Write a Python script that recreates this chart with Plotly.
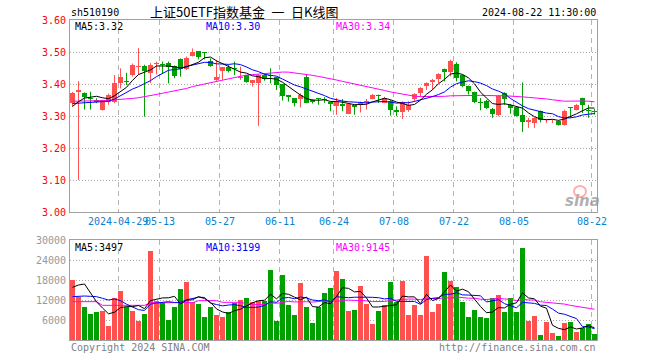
import plotly.graph_objects as go
import pandas as pd

# ---------------- data ----------------
dates = [
    "2024-04-17", "2024-04-18", "2024-04-19", "2024-04-22", "2024-04-23", "2024-04-24", "2024-04-25", "2024-04-26",
    "2024-04-29", "2024-04-30",
    "2024-05-06", "2024-05-07", "2024-05-08", "2024-05-09", "2024-05-10", "2024-05-13", "2024-05-14", "2024-05-15",
    "2024-05-16", "2024-05-17", "2024-05-20", "2024-05-21", "2024-05-22", "2024-05-23", "2024-05-24", "2024-05-27",
    "2024-05-28", "2024-05-29", "2024-05-30", "2024-05-31",
    "2024-06-03", "2024-06-04", "2024-06-05", "2024-06-06", "2024-06-07", "2024-06-11", "2024-06-12", "2024-06-13",
    "2024-06-14", "2024-06-17", "2024-06-18", "2024-06-19", "2024-06-20", "2024-06-21", "2024-06-24", "2024-06-25",
    "2024-06-26", "2024-06-27", "2024-06-28",
    "2024-07-01", "2024-07-02", "2024-07-03", "2024-07-04", "2024-07-05", "2024-07-08", "2024-07-09", "2024-07-10",
    "2024-07-11", "2024-07-12", "2024-07-15", "2024-07-16", "2024-07-17", "2024-07-18", "2024-07-19", "2024-07-22",
    "2024-07-23", "2024-07-24", "2024-07-25", "2024-07-26", "2024-07-29", "2024-07-30", "2024-07-31",
    "2024-08-01", "2024-08-02", "2024-08-05", "2024-08-06", "2024-08-07", "2024-08-08", "2024-08-09", "2024-08-12",
    "2024-08-13", "2024-08-14", "2024-08-15", "2024-08-16", "2024-08-19", "2024-08-20", "2024-08-21", "2024-08-22",
]

opens = [
    3.342, 3.376, 3.373, 3.357, 3.350, 3.319, 3.345, 3.345, 3.404, 3.410,
    3.428, 3.453, 3.456, 3.434, 3.461, 3.464, 3.465, 3.456, 3.478, 3.446,
    3.488, 3.503, 3.500, 3.473, 3.413, 3.441, 3.452, 3.448, 3.418, 3.428,
    3.404, 3.404, 3.428, 3.426, 3.423, 3.400, 3.366, 3.355, 3.352, 3.421,
    3.351, 3.354, 3.352, 3.345, 3.330, 3.337, 3.307, 3.333, 3.334, 3.344,
    3.354, 3.366, 3.341, 3.348, 3.320, 3.311, 3.318, 3.353, 3.372, 3.393,
    3.405, 3.416, 3.447, 3.436, 3.464, 3.429, 3.393, 3.374, 3.344, 3.348,
    3.323, 3.304, 3.372, 3.335, 3.328, 3.304, 3.280, 3.278, 3.315, 3.287,
    3.286, 3.285, 3.273, 3.326, 3.320, 3.356, 3.320, 3.316,
]
highs = [
    3.375, 3.409, 3.374, 3.376, 3.355, 3.351, 3.370, 3.428, 3.449, 3.435,
    3.464, 3.512, 3.460, 3.465, 3.470, 3.470, 3.470, 3.458, 3.480, 3.486,
    3.511, 3.503, 3.500, 3.480, 3.475, 3.441, 3.460, 3.470, 3.454, 3.428,
    3.412, 3.430, 3.431, 3.449, 3.423, 3.400, 3.366, 3.355, 3.371, 3.428,
    3.352, 3.356, 3.359, 3.346, 3.356, 3.353, 3.338, 3.335, 3.345, 3.353,
    3.369, 3.367, 3.360, 3.350, 3.330, 3.346, 3.346, 3.371, 3.390, 3.405,
    3.416, 3.434, 3.448, 3.476, 3.468, 3.430, 3.395, 3.376, 3.356, 3.350,
    3.325, 3.366, 3.374, 3.337, 3.330, 3.405, 3.294, 3.296, 3.317, 3.291,
    3.289, 3.286, 3.320, 3.326, 3.337, 3.357, 3.335, 3.322,
]
lows = [
    3.329, 3.100, 3.320, 3.320, 3.340, 3.317, 3.335, 3.340, 3.386, 3.397,
    3.423, 3.429, 3.298, 3.403, 3.430, 3.433, 3.402, 3.418, 3.423, 3.444,
    3.486, 3.477, 3.477, 3.454, 3.410, 3.413, 3.436, 3.428, 3.413, 3.404,
    3.392, 3.269, 3.410, 3.402, 3.381, 3.348, 3.345, 3.330, 3.327, 3.340,
    3.339, 3.335, 3.341, 3.315, 3.304, 3.315, 3.306, 3.304, 3.311, 3.320,
    3.352, 3.341, 3.340, 3.301, 3.299, 3.291, 3.313, 3.346, 3.361, 3.382,
    3.382, 3.403, 3.408, 3.424, 3.408, 3.390, 3.367, 3.340, 3.318, 3.322,
    3.294, 3.299, 3.335, 3.307, 3.298, 3.250, 3.263, 3.263, 3.280, 3.278,
    3.278, 3.270, 3.270, 3.294, 3.318, 3.309, 3.294, 3.304,
]
closes = [
    3.373, 3.380, 3.358, 3.354, 3.343, 3.350, 3.365, 3.404, 3.423, 3.406,
    3.459, 3.456, 3.440, 3.460, 3.467, 3.460, 3.454, 3.426, 3.446, 3.482,
    3.501, 3.485, 3.496, 3.457, 3.423, 3.454, 3.442, 3.446, 3.421, 3.407,
    3.412, 3.428, 3.415, 3.424, 3.397, 3.363, 3.358, 3.342, 3.366, 3.342,
    3.343, 3.353, 3.350, 3.339, 3.343, 3.330, 3.337, 3.328, 3.341, 3.348,
    3.367, 3.364, 3.356, 3.320, 3.311, 3.345, 3.335, 3.369, 3.388, 3.403,
    3.414, 3.431, 3.436, 3.471, 3.419, 3.393, 3.377, 3.343, 3.342, 3.325,
    3.307, 3.364, 3.353, 3.325, 3.301, 3.280, 3.289, 3.294, 3.289, 3.289,
    3.287, 3.273, 3.315, 3.324, 3.335, 3.335, 3.316, 3.314,
]
volumes = [
    18000, 13000, 10000, 7800, 8500, 8700, 4200, 12500, 14700, 10000,
    8700, 5800, 7800, 26800, 11700, 11000, 6000, 10000, 15300, 17500,
    11500, 10800, 7000, 9800, 7500, 7000, 8500, 11200, 12000, 12600,
    11500, 11700, 11800, 21000, 5800, 19500, 10500, 7500, 17100, 9800,
    5200, 9800, 14200, 15500, 20700, 18300, 8700, 9000, 16200, 10800,
    4800, 8700, 10500, 17400, 11500, 17800, 7500, 10500, 7500, 25200,
    8400, 10800, 20400, 17700, 15900, 11500, 6900, 9000, 6900, 6600,
    12600, 13500, 8500, 12600, 8500, 27700, 5800, 7200, 1500, 5500,
    2100, 1200, 5200, 5500, 2500, 3700, 4800, 1800,
]

# moving-average values at the left edge (windows reach before the visible range)
price_ma5_head = [3.330, 3.345, 3.356, 3.358]
price_ma10_head = [3.339, 3.340, 3.341, 3.341, 3.342, 3.343, 3.346, 3.353, 3.363]
price_ma30_head = [3.346, 3.346, 3.347, 3.347, 3.347, 3.348, 3.349, 3.350, 3.351, 3.352,
                   3.355, 3.357, 3.360, 3.363, 3.367, 3.371, 3.375, 3.378, 3.382, 3.386,
                   3.392, 3.396, 3.400, 3.405, 3.408, 3.412, 3.417, 3.421, 3.425]
vol_ma5_head = [15800, 16500, 16800, 14000]
vol_ma10_head = [13000, 13200, 13200, 13100, 13000, 12500, 12000, 12300, 11800]
vol_ma30_head = [11500, 11500, 11500, 11500, 11500, 10400, 10400, 10400, 10400, 10400,
                 10400, 10400, 10400, 11200, 11200, 11200, 11200, 11200, 11200, 11200,
                 11200, 11800, 11800, 11800, 11800, 11300, 11300, 11300, 11300]

price_ticks = [3.10, 3.20, 3.30, 3.40, 3.50]
price_labels = ["3.60", "3.50", "3.40", "3.30", "3.20", "3.10", "3.00"]
vol_ticks = [6000, 12000, 18000, 24000]
vol_labels = ["30000", "24000", "18000", "12000", "6000"]
date_ticks = ["2024-04-29", "2024-05-13", "2024-05-27", "2024-06-11", "2024-06-24",
              "2024-07-08", "2024-07-22", "2024-08-05", "2024-08-22"]
date_tick_text = ["2024-04-29", "05-13", "05-27", "06-11", "06-24", "07-08", "07-22", "08-05", "08-22"]

title_text = "上证50ETF指数基金\u2002一\u2002日K线图"
ma_price_text = ["MA5:3.32", "MA10:3.30", "MA30:3.34"]
ma_vol_text = ["MA5:3497", "MA10:3199", "MA30:9145"]

# ---------------- derived ----------------
n = len(dates)
xs = list(range(n))
RED = "#ff5050"
GREEN = "#00a000"
MA_COLORS = ["#000000", "#0000ff", "#ff00ff"]


def moving(values, window, head):
    s = pd.Series(values, dtype=float).rolling(window).mean().tolist()
    for i, v in enumerate(head):
        s[i] = v
    return s


pma5 = moving(closes, 5, price_ma5_head)
pma10 = moving(closes, 10, price_ma10_head)
pma30 = moving(closes, 30, price_ma30_head)
vma5 = moving(volumes, 5, vol_ma5_head)
vma10 = moving(volumes, 10, vol_ma10_head)
vma30 = moving(volumes, 30, vol_ma30_head)

up = [c >= o for o, c in zip(opens, closes)]
colors = [RED if u else GREEN for u in up]

fig = go.Figure()

# wicks
for flag, col in ((True, RED), (False, GREEN)):
    wx, wy = [], []
    for i in range(n):
        if up[i] == flag:
            wx += [i, i, None]
            wy += [lows[i], highs[i], None]
    fig.add_trace(go.Scatter(x=wx, y=wy, mode="lines", line=dict(color=col, width=1),
                             hoverinfo="skip", showlegend=False, xaxis="x", yaxis="y"))

# bodies
body_base = [min(o, c) for o, c in zip(opens, closes)]
body_h = [max(abs(c - o), 0.003) for o, c in zip(opens, closes)]
fig.add_trace(go.Bar(x=xs, y=body_h, base=body_base, width=0.82,
                     marker=dict(color=colors, line=dict(width=0)),
                     hoverinfo="skip", showlegend=False, xaxis="x", yaxis="y"))

for vals, col in zip((pma30, pma10, pma5), MA_COLORS[::-1]):
    fig.add_trace(go.Scatter(x=xs, y=vals, mode="lines", line=dict(color=col, width=1),
                             hoverinfo="skip", showlegend=False, xaxis="x", yaxis="y"))

# volume
fig.add_trace(go.Bar(x=xs, y=volumes, width=0.85,
                     marker=dict(color=colors, line=dict(width=0)),
                     hoverinfo="skip", showlegend=False, xaxis="x2", yaxis="y2"))
for vals, col in zip((vma30, vma10, vma5), MA_COLORS[::-1]):
    fig.add_trace(go.Scatter(x=xs, y=vals, mode="lines", line=dict(color=col, width=1),
                             hoverinfo="skip", showlegend=False, xaxis="x2", yaxis="y2"))

# ---------------- layout ----------------
W, H = 660, 360
L, R, T, B = 70, 63, 20, 20
PW, PH = W - L - R, H - T - B
OFF = 0.42
XR = [-OFF, n - 1 + OFF]
tick_pos = [dates.index(d) - OFF for d in date_ticks]


def py(pix):  # pixel row -> paper y
    return (H - B - pix) / PH


def px(pix):  # pixel column -> paper x
    return (pix - L) / PW


axis_common = dict(showline=True, mirror=True, linecolor="#a0a0a0", linewidth=1,
                   zeroline=False, ticks="", showticklabels=False, fixedrange=True)
xcommon = dict(axis_common, range=XR, tickmode="array", tickvals=tick_pos,
               showgrid=True, gridcolor="#b4b4b4", gridwidth=1, griddash="5px,4px")

fig.update_layout(
    width=W, height=H,
    margin=dict(l=L, r=R, t=T, b=B, pad=0),
    paper_bgcolor="white", plot_bgcolor="white",
    barmode="overlay", bargap=0,
    showlegend=False,
    xaxis=dict(xcommon, domain=[0, 1], anchor="y"),
    xaxis2=dict(xcommon, domain=[0, 1], anchor="y2", matches="x"),
    yaxis=dict(axis_common, domain=[py(212), 1.0], range=[3.0, 3.6], tickmode="array",
               tickvals=price_ticks, showgrid=True, gridcolor="#a8a8a8", griddash="1px,2px"),
    yaxis2=dict(axis_common, domain=[0, py(240)], range=[0, 30000], tickmode="array",
                tickvals=vol_ticks, showgrid=True, gridcolor="#a8a8a8", griddash="1px,2px"),
)

MONO = "DejaVu Sans Mono"
ann = []


def text(x, y, s, color, xanchor="left", size=10, family=MONO, xref="paper", yref="paper", **kw):
    ann.append(dict(x=x, y=y, text=s, xref=xref, yref=yref, xanchor=xanchor, yanchor="middle",
                    showarrow=False, borderpad=0,
                    font=dict(family=family, size=size, color=color, **kw)))


# header
text(0, py(13), "sh510190", "#000000")
text(px(244), py(11.5), title_text, "#000000", xanchor="center", size=13,
     family="Noto Sans CJK SC")
text(1, py(13), "2024-08-22 11:30:00", "#000000", xanchor="right")

# price axis labels
for lab in price_labels:
    text(px(67), float(lab), lab, "#ff0000", xanchor="right", yref="y")
# volume axis labels
for lab in vol_labels:
    text(px(67), float(lab), lab, "#999999", xanchor="right", yref="y2")

# MA legends
for s, col, xp in zip(ma_price_text, MA_COLORS, (74, 205, 335)):
    text(px(xp), py(27), s, col)
for s, col, xp in zip(ma_vol_text, MA_COLORS, (74, 205, 335)):
    text(px(xp), py(247), s, col)

# date labels
for pos, lab in zip(tick_pos, date_tick_text):
    text(pos, py(221), lab, "#0a80d2", xanchor="center", xref="x")

# footer
text(0, py(347), "Copyright 2024 SINA.COM", "#808080")
text(1, py(347), "http://finance.sina.com.cn", "#808080", xanchor="right")

# sina watermark
text(px(582), py(201), "sina", "rgba(150,150,150,0.75)", xanchor="center", size=15,
     family="DejaVu Sans", weight="bold", style="italic")
fig.update_layout(annotations=ann)
fig.add_shape(type="circle", xref="paper", yref="paper",
              x0=px(574), x1=px(586), y0=py(197), y1=py(186),
              line=dict(color="rgba(255,110,110,0.55)", width=2))

fig.write_html("out.html", config={"displayModeBar": False, "staticPlot": True},
               post_script="document.body.style.margin='0px';document.body.style.padding='0px';")
